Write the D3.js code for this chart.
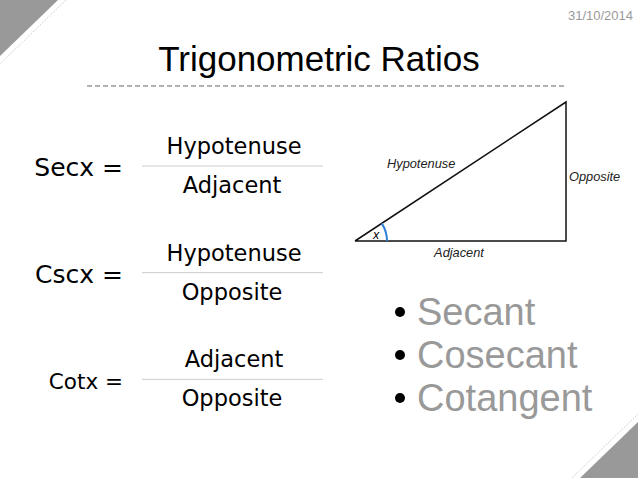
<!DOCTYPE html>
<html><head><meta charset="utf-8">
<script src="https://cdn.jsdelivr.net/npm/d3@7"></script>
<style>body{margin:0;background:#fff}</style>
</head><body>
<svg id="s" width="638" height="478"></svg>
<script>
const ratioNames = ['Secx =', 'Cscx =', 'Cotx ='];
const numerators = ['Hypotenuse', 'Hypotenuse', 'Adjacent'];
const denominators = ['Adjacent', 'Opposite', 'Opposite'];
const bullets = ['Secant', 'Cosecant', 'Cotangent'];
const sideLabels = ['Hypotenuse', 'Opposite', 'Adjacent'];

const svg = d3.select('#s');
const F = 'Liberation Sans, Arial, sans-serif';
const D = 'DejaVu Sans, sans-serif';

// corner decorations
svg.append('path').attr('d', 'M0,0 L58,0 L0,56 Z').attr('fill', '#999');
svg.append('line').attr('x1', 66).attr('y1', 0).attr('x2', 0).attr('y2', 64)
  .attr('stroke', '#bbb').attr('stroke-dasharray', '1,1.5');
svg.append('path').attr('d', 'M638,478 L580,478 L638,422 Z').attr('fill', '#999');
svg.append('line').attr('x1', 572).attr('y1', 478).attr('x2', 638).attr('y2', 414)
  .attr('stroke', '#bbb').attr('stroke-dasharray', '1,1.5');

svg.append('text').attr('x', 633).attr('y', 20).attr('text-anchor', 'end')
  .attr('font-family', F).attr('font-size', 13).attr('fill', '#999').text('31/10/2014');
svg.append('text').attr('x', 319).attr('y', 71).attr('text-anchor', 'middle')
  .attr('font-family', F).attr('font-size', 35).attr('fill', '#000').text('Trigonometric Ratios');
svg.append('line').attr('x1', 87).attr('x2', 566).attr('y1', 86).attr('y2', 86)
  .attr('stroke', '#999').attr('stroke-width', 1.5).attr('stroke-dasharray', '5,3');

// fractions
const y = d3.scaleBand().domain(ratioNames).range([112, 432]);
const g = svg.selectAll('.r').data(ratioNames).join('g')
  .attr('transform', d => `translate(0,${y(d) + 54})`);
g.append('text').attr('x', 123).attr('y', 10).attr('text-anchor', 'end')
  .attr('font-family', D).attr('font-size', (d, i) => i === 2 ? 21.5 : 25).text(d => d);
g.append('line').attr('x1', 142).attr('x2', 323).attr('stroke', '#ccc');
g.append('text').attr('x', 234).attr('y', -12).attr('text-anchor', 'middle')
  .attr('font-family', D).attr('font-size', 22.5).text((d, i) => numerators[i]);
g.append('text').attr('x', 232).attr('y', 27).attr('text-anchor', 'middle')
  .attr('font-family', D).attr('font-size', 22.5).text((d, i) => denominators[i]);

// triangle
const A = [355, 241], B = [566, 241], C = [566, 102];
svg.append('path').attr('d', d3.line()([A, B, C, A])).attr('fill', 'none')
  .attr('stroke', '#111').attr('stroke-width', 1.5);
const ang = Math.atan2(A[1] - C[1], C[0] - A[0]);
svg.append('path').attr('transform', `translate(${A})`)
  .attr('d', d3.arc()({innerRadius: 32, outerRadius: 32, startAngle: Math.PI / 2 - ang, endAngle: Math.PI / 2}))
  .attr('stroke', '#2a7fd4').attr('stroke-width', 2).attr('fill', 'none');
svg.append('text').attr('x', 373).attr('y', 239).attr('font-family', F)
  .attr('font-style', 'italic').attr('font-size', 12.5).text('x');
const sp = [[387, 168, 'start'], [569, 181, 'start'], [459, 257, 'middle']];
svg.selectAll('.sl').data(sideLabels).join('text')
  .attr('x', (d, i) => sp[i][0]).attr('y', (d, i) => sp[i][1]).attr('text-anchor', (d, i) => sp[i][2])
  .attr('font-family', F).attr('font-style', 'italic').attr('font-size', 12.8).attr('fill', '#222').text(d => d);

// bullets
const by = d3.scalePoint().domain(bullets).range([313, 399]);
svg.selectAll('.bd').data(bullets).join('circle')
  .attr('cx', 400).attr('cy', d => by(d) - 1).attr('r', 5).attr('fill', '#000');
svg.selectAll('.bt').data(bullets).join('text')
  .attr('x', 417).attr('y', d => by(d) + 12).attr('font-family', F).attr('font-size', 38)
  .attr('fill', '#999').text(d => d);
</script>
</body></html>
